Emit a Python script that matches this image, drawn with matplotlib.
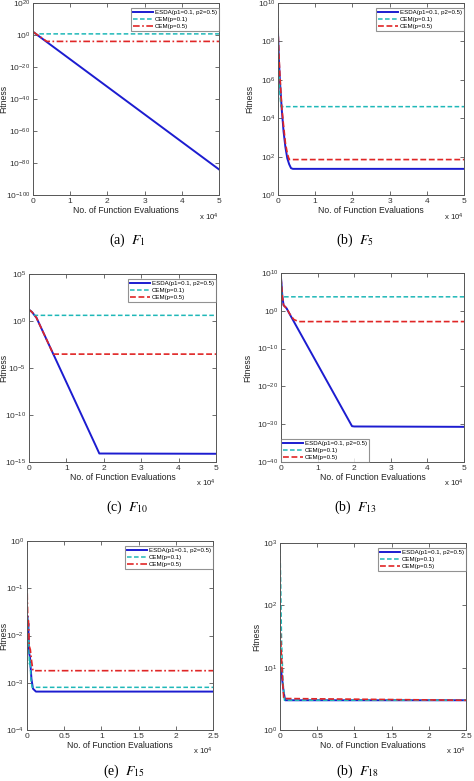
import numpy as np
import matplotlib
matplotlib.use('Agg')
import matplotlib.pyplot as plt
from matplotlib.ticker import FixedLocator, FuncFormatter, NullLocator

plt.rcParams['font.family'] = ['Liberation Sans', 'DejaVu Sans']
plt.rcParams['mathtext.fontset'] = 'stix'

W, H = 474, 781

labels = ['ESDA(p1=0.1, p2=0.5)', 'CEM(p=0.1)', 'CEM(p=0.5)']

# F1
f1_x_esda = [0, 50000]
f1_esda = [1e2, 1e-84]
f1_x_cem1 = [0, 800, 50000]
f1_cem1 = [1e2, 5e0, 5e0]
f1_x_cem5 = [0, 3700, 50000]
f1_cem5 = [1e2, 1e-4, 1e-4]

# F5
f5_x_esda = [0, 250, 500, 1000, 1500, 2000, 2500, 3000, 3500, 4000, 50000]
f5_esda = [3e8, 1e7, 1e6, 3e4, 2e3, 3e2, 8e1, 4e1, 2.5e1, 2.3e1, 2.3e1]
f5_x_cem1 = [0, 250, 500, 800, 50000]
f5_cem1 = [1e8, 3e6, 2e5, 4e4, 4e4]
f5_x_cem5 = [0, 250, 500, 1000, 1500, 2000, 2500, 3000, 50000]
f5_cem5 = [5e8, 2e7, 2e6, 4e4, 4e3, 5e2, 1.5e2, 7e1, 7e1]

# F10
f10_x_esda = [0, 800, 2000, 6500, 10000, 14000, 18000, 18800, 50000]
f10_esda = [16, 9, 2.2, 3e-4, 3e-7, 1.1e-10, 4e-14, 8e-15, 7.5e-15]
f10_x_cem1 = [0, 800, 1500, 50000]
f10_cem1 = [16, 9, 4, 4]
f10_x_cem5 = [0, 800, 2000, 6500, 50000]
f10_cem5 = [16, 9, 2.2, 3e-4, 3e-4]

# F13
f13_x_esda = [0, 150, 350, 700, 1500, 2500, 19400, 20000, 50000]
f13_esda = [5e8, 1e7, 1e4, 3e1, 5e0, 8e-2, 3e-31, 2.5e-31, 2e-31]
f13_x_cem1 = [0, 100, 250, 50000]
f13_cem1 = [5e8, 5e5, 5e3, 5e3]
f13_x_cem5 = [0, 150, 350, 700, 1500, 2500, 3500, 4800, 50000]
f13_cem5 = [5e8, 1e7, 1e4, 3e1, 5e0, 1e-1, 5e-3, 1.4e-3, 1.4e-3]

# F15
f15_x_esda = [0, 60, 120, 180, 250, 320, 400, 500, 600, 800, 1200, 25000]
f15_esda = [2.4e-2, 2.6e-2, 1.5e-2, 1.8e-2, 5e-3, 4e-3, 3.5e-3, 2e-3, 1.2e-3, 7.5e-4, 6.5e-4, 6.5e-4]
f15_x_cem1 = [0, 80, 160, 240, 320, 420, 520, 700, 25000]
f15_cem1 = [2e-2, 2.5e-2, 6e-3, 8e-3, 2.5e-3, 3e-3, 1.2e-3, 8e-4, 8e-4]
f15_x_cem5 = [0, 40, 100, 200, 300, 450, 600, 800, 25000]
f15_cem5 = [1.5e-1, 6e-2, 2.5e-2, 2e-2, 6e-3, 5e-3, 3e-3, 1.8e-3, 1.8e-3]

# F18
f18_x_esda = [0, 200, 500, 700, 25000]
f18_esda = [1e1, 8e0, 4e0, 3e0, 3e0]
f18_x_cem1 = [0, 100, 200, 400, 600, 25000]
f18_cem1 = [8e2, 2e2, 3e1, 6e0, 3e0, 3e0]
f18_x_cem5 = [0, 150, 300, 500, 25000]
f18_cem5 = [5e1, 2e1, 8e0, 3.2e0, 3e0]

blue = '#1c1cd0'
cyan = '#1fb8b8'
red = '#e02626'


def px_axes(x0, y0, x1, y1):
    return fig.add_axes([x0 / W, 1 - y1 / H, (x1 - x0) / W, (y1 - y0) / H])


def panel(box, series, red_style, xmax, xticks, yexp, caption, cap_xy, leg_loc, ylab_x):
    ax = px_axes(*box)
    (xe, ye), (xc1, yc1), (xc5, yc5) = series
    ax.plot(xe, ye, color=blue, lw=1.4, label=labels[0])
    ax.plot(xc1, yc1, color=cyan, lw=1.1, ls=(0, (3, 1.6)), label=labels[1])
    ax.plot(xc5, yc5, color=red, lw=1.2, ls=red_style, label=labels[2])
    ax.set_yscale('log')
    ax.set_xlim(0, xmax)
    ax.set_ylim(10.0 ** yexp[0], 10.0 ** yexp[-1])
    ax.xaxis.set_major_locator(FixedLocator(xticks))
    ax.xaxis.set_major_formatter(FuncFormatter(lambda v, p: '%g' % (v / 1e4)))
    ax.yaxis.set_major_locator(FixedLocator([10.0 ** e for e in yexp]))
    ax.yaxis.set_major_formatter(FuncFormatter(
        lambda v, p: r'$\mathregular{10^{%d}}$' % int(round(np.log10(v)))))
    ax.yaxis.set_minor_locator(NullLocator())
    ax.tick_params(direction='in', length=3, width=0.5, labelsize=6.0, pad=2,
                   top=True, right=True, colors='#333333')
    for s in ax.spines.values():
        s.set_color('#555555')
        s.set_linewidth(0.7)
    ax.set_xlabel('No. of Function Evaluations', fontsize=6.2, labelpad=1, color='#222222')
    ax.set_ylabel('Fitness', fontsize=6.2, color='#222222')
    # ylabel centre given in pixels of the figure
    ax.yaxis.set_label_coords((ylab_x - box[0]) / (box[2] - box[0]), 0.5)
    ax.text(1.0, -0.085, r'x $\mathregular{10^{4}}$', transform=ax.transAxes,
            ha='right', va='top', fontsize=5.6, color='#222222')
    if leg_loc == 'upper right':
        bb = (1.0, 0.975)
    else:
        bb = (0.0, 0.0)
    leg = ax.legend(loc=leg_loc, bbox_to_anchor=bb, fontsize=4.4, frameon=True,
                    fancybox=False, borderaxespad=0, handlelength=3.2,
                    handletextpad=0.3, borderpad=0.35, labelspacing=0.25)
    leg.get_frame().set_edgecolor('#777777')
    leg.get_frame().set_linewidth(0.8)
    fig.text(cap_xy[0] / W, 1 - cap_xy[1] / H, caption, ha='center', va='center',
             fontsize=10, family='Liberation Serif')
    return ax


fig = plt.figure(figsize=(W / 100, H / 100), dpi=100)

panel((33, 3, 219, 195),
      [(f1_x_esda, f1_esda), (f1_x_cem1, f1_cem1), (f1_x_cem5, f1_cem5)],
      (0, (4, 1.5, 1, 1.5)), 50000, [0, 10000, 20000, 30000, 40000, 50000],
      [-100, -80, -60, -40, -20, 0, 20], r'(a)  $\mathit{F_{1}}$', (127, 240),
      'upper right', 8)

panel((278, 3, 464, 195),
      [(f5_x_esda, f5_esda), (f5_x_cem1, f5_cem1), (f5_x_cem5, f5_cem5)],
      (0, (3.5, 1.6)), 50000, [0, 10000, 20000, 30000, 40000, 50000],
      [0, 2, 4, 6, 8, 10], r'(b)  $\mathit{F_{5}}$', (355, 240), 'upper right', 254)

panel((29, 274, 216, 462),
      [(f10_x_esda, f10_esda), (f10_x_cem1, f10_cem1), (f10_x_cem5, f10_cem5)],
      (0, (3.5, 1.6)), 50000, [0, 10000, 20000, 30000, 40000, 50000],
      [-15, -10, -5, 0, 5], r'(c)  $\mathit{F_{10}}$', (127, 507), 'upper right', 8)

panel((281, 273, 464, 462),
      [(f13_x_esda, f13_esda), (f13_x_cem1, f13_cem1), (f13_x_cem5, f13_cem5)],
      (0, (3.5, 1.6)), 50000, [0, 10000, 20000, 30000, 40000, 50000],
      [-40, -30, -20, -10, 0, 10], r'(b)  $\mathit{F_{13}}$', (355, 507), 'lower left', 252)

panel((27, 541, 213, 730),
      [(f15_x_esda, f15_esda), (f15_x_cem1, f15_cem1), (f15_x_cem5, f15_cem5)],
      (0, (4, 1.5, 1, 1.5)), 25000, [0, 5000, 10000, 15000, 20000, 25000],
      [-4, -3, -2, -1, 0], r'(e)  $\mathit{F_{15}}$', (124, 771), 'upper right', 8)

panel((280, 543, 466, 730),
      [(f18_x_esda, f18_esda), (f18_x_cem1, f18_cem1), (f18_x_cem5, f18_cem5)],
      (0, (3.5, 1.6)), 25000, [0, 5000, 10000, 15000, 20000, 25000],
      [0, 1, 2, 3], r'(b)  $\mathit{F_{18}}$', (357, 771), 'upper right', 261)

fig.savefig('out.png', dpi=100)
